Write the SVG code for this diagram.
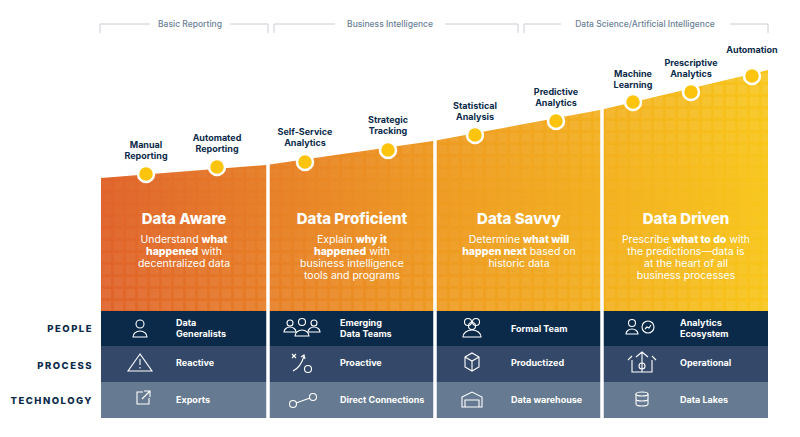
<svg xmlns="http://www.w3.org/2000/svg" width="800" height="437" viewBox="0 0 800 437">
<defs>
<linearGradient id="g" x1="101" y1="0" x2="768" y2="0" gradientUnits="userSpaceOnUse">
<stop offset="0" stop-color="#e0632b"/><stop offset="0.5" stop-color="#ee9a22"/><stop offset="1" stop-color="#f8c61c"/></linearGradient>
<linearGradient id="fade" x1="0" y1="0" x2="0" y2="1"><stop offset="0" stop-color="#fff" stop-opacity="0.9"/><stop offset="0.55" stop-color="#fff" stop-opacity="0.15"/><stop offset="1" stop-color="#fff" stop-opacity="0.6"/></linearGradient>
<pattern id="sq" width="12" height="12" patternUnits="userSpaceOnUse" x="101" y="60"><rect x="1" y="1" width="9" height="9" fill="#fff" fill-opacity="0.13"/></pattern>
<mask id="m"><rect x="0" y="60" width="800" height="252" fill="url(#fade)"/></mask>
</defs>
<style>
.br{fill:none;stroke:#c8ccd2;stroke-width:1}
.bl{font-family:Inter,"Noto Sans",sans-serif;font-size:8.5px;fill:#6b7f96;text-anchor:middle;font-weight:500}
.ml{font-family:Inter,"Noto Sans",sans-serif;font-weight:700;font-size:9px;fill:#0b2a4a;text-anchor:middle}
.dot{fill:#fcc40d;stroke:#fff;stroke-width:2.5}
.h{font-family:Inter,"Noto Sans",sans-serif;font-weight:800;font-size:15px;fill:#fff;text-anchor:middle}
.d{font-family:Inter,"Noto Sans",sans-serif;font-size:10.5px;fill:#fff;text-anchor:middle}
.rl{font-family:Inter,"Noto Sans",sans-serif;font-weight:800;font-size:9.5px;fill:#0b2a4a;text-anchor:end;letter-spacing:1.5px}
.cl{font-family:Inter,"Noto Sans",sans-serif;font-weight:700;font-size:9px;fill:#fff}
.ic{fill:none;stroke:#fff;stroke-width:1.1}
</style>
<g id="brackets">
<path class="br" d="M100,33V24H150M230,24H268V33"/><text class="bl" x="190" y="27">Basic Reporting</text>
<path class="br" d="M274,33V24H335M445,24H518V33"/><text class="bl" x="390" y="27">Business Intelligence</text>
<path class="br" d="M524,33V24H561M730,24H768V33"/><text class="bl" x="645" y="27">Data Science/Artificial Intelligence</text>
</g>
<g id="chart">
<polygon points="101,178 266,165 433,141 600,110 768,70 768,311 101,311" fill="url(#g)"/>
<polygon points="101,178 266,165 433,141 600,110 768,70 768,311 101,311" fill="url(#sq)" mask="url(#m)"/>
<g stroke="#fff" stroke-width="3.5"><line x1="268" y1="150" x2="268" y2="418"/><line x1="435" y1="130" x2="435" y2="418"/><line x1="602" y1="95" x2="602" y2="418"/></g>
</g>
<g id="milestones">
<circle class="dot" cx="146" cy="174" r="8"/><text class="ml" x="146" y="148">Manual</text><text class="ml" x="146" y="159">Reporting</text>
<circle class="dot" cx="217" cy="167" r="8"/><text class="ml" x="217" y="141">Automated</text><text class="ml" x="217" y="152">Reporting</text>
<circle class="dot" cx="305" cy="162" r="8"/><text class="ml" x="305" y="135">Self-Service</text><text class="ml" x="305" y="146">Analytics</text>
<circle class="dot" cx="388" cy="150" r="8"/><text class="ml" x="388" y="123">Strategic</text><text class="ml" x="388" y="134">Tracking</text>
<circle class="dot" cx="475" cy="135" r="8"/><text class="ml" x="475" y="109">Statistical</text><text class="ml" x="475" y="120">Analysis</text>
<circle class="dot" cx="556" cy="121" r="8"/><text class="ml" x="556" y="95">Predictive</text><text class="ml" x="556" y="106">Analytics</text>
<circle class="dot" cx="633" cy="102" r="8"/><text class="ml" x="633" y="77">Machine</text><text class="ml" x="633" y="88">Learning</text>
<circle class="dot" cx="691" cy="92" r="8"/><text class="ml" x="691" y="66">Prescriptive</text><text class="ml" x="691" y="77">Analytics</text>
<circle class="dot" cx="752" cy="76" r="8"/><text class="ml" x="752" y="53">Automation</text>
</g>
<g id="stages">
<text class="h" x="184" y="224">Data Aware</text>
<text class="d" x="184" y="243">Understand <tspan font-weight="800">what</tspan></text>
<text class="d" x="184" y="255"><tspan font-weight="800">happened</tspan> with</text>
<text class="d" x="184" y="267">decentralized data</text>
<text class="h" x="352" y="224">Data Proficient</text>
<text class="d" x="352" y="243">Explain <tspan font-weight="800">why it</tspan></text>
<text class="d" x="352" y="255"><tspan font-weight="800">happened</tspan> with</text>
<text class="d" x="352" y="267">business intelligence</text>
<text class="d" x="352" y="279">tools and programs</text>
<text class="h" x="519" y="224">Data Savvy</text>
<text class="d" x="519" y="243">Determine <tspan font-weight="800">what will</tspan></text>
<text class="d" x="519" y="255"><tspan font-weight="800">happen next</tspan> based on</text>
<text class="d" x="519" y="267">historic data</text>
<text class="h" x="686" y="224">Data Driven</text>
<text class="d" x="686" y="243">Prescribe <tspan font-weight="800">what to do</tspan> with</text>
<text class="d" x="686" y="255">the predictions—data is</text>
<text class="d" x="686" y="267">at the heart of all</text>
<text class="d" x="686" y="279">business processes</text>
</g>
<g id="rows">
<rect x="101" y="311" width="667" height="35" fill="#0b2a4a"/>
<rect x="101" y="346" width="667" height="36" fill="#34496a"/>
<rect x="101" y="382" width="667" height="36" fill="#667b91"/>
<g stroke="#fff" stroke-width="3.5"><line x1="268" y1="311" x2="268" y2="418"/><line x1="435" y1="311" x2="435" y2="418"/><line x1="602" y1="311" x2="602" y2="418"/></g>
<text class="rl" x="93" y="332">PEOPLE</text>
<text class="rl" x="93" y="369">PROCESS</text>
<text class="rl" x="93" y="404">TECHNOLOGY</text>
</g>
<g id="cells">
<text class="cl" x="176" y="326">Data</text><text class="cl" x="176" y="337">Generalists</text>
<text class="cl" x="176" y="366">Reactive</text>
<text class="cl" x="176" y="403">Exports</text>
<text class="cl" x="340" y="326">Emerging</text><text class="cl" x="340" y="337">Data Teams</text>
<text class="cl" x="340" y="366">Proactive</text>
<text class="cl" x="340" y="403">Direct Connections</text>
<text class="cl" x="511" y="332">Formal Team</text>
<text class="cl" x="511" y="366">Productized</text>
<text class="cl" x="511" y="403">Data warehouse</text>
<text class="cl" x="680" y="326">Analytics</text><text class="cl" x="680" y="337">Ecosystem</text>
<text class="cl" x="680" y="366">Operational</text>
<text class="cl" x="680" y="403">Data Lakes</text>
</g>
<g id="icons" class="ic">
<circle cx="140" cy="324" r="4"/><path d="M133,337a7,6 0 0 1 14,0z"/>
<path d="M140,354L128,371H152Z"/><path d="M140,359v6M140,367v1.5"/>
<path d="M143,392h-6v12h12v-6M144,391h6v6M150,391l-8,8"/>
<circle cx="290" cy="323" r="3"/><path d="M284,332a6,5 0 0 1 12,0z"/><circle cx="302" cy="322" r="3.5"/><path d="M295,336a7,6 0 0 1 14,0z"/><circle cx="314" cy="323" r="3"/><path d="M308,332a6,5 0 0 1 12,0z"/>
<path d="M292,354l4,4M296,354l-4,4M293,371q8,-4 11,-15M301,357l3,-2 1,4"/><circle cx="308" cy="369" r="3.5"/>
<circle cx="293" cy="404" r="3.5"/><circle cx="313" cy="397" r="3.5"/><path d="M296,403l14,-5"/>
<circle cx="468" cy="322" r="3.5"/><circle cx="476" cy="322" r="3.5"/><circle cx="472" cy="326" r="3.5"/><path d="M463,337a9,7 0 0 1 18,0z"/>
<path d="M465,357l7,-4 7,4v10l-7,4 -7,-4z M465,357l7,4 7,-4M472,361v10"/>
<path d="M462,397l10,-5 10,5v10h-20z M465,400h14v7h-14z"/>
<circle cx="632" cy="323" r="3.5"/><path d="M626,334a6,5 0 0 1 12,0z"/><circle cx="648" cy="327" r="6"/><path d="M645,329l2,-2 2,1 2,-3"/>
<path d="M632,360v12h20v-12M642,352v20M636,357l6,-5 6,5M628,360l4,-4M656,360l-4,-4"/><circle cx="642" cy="366" r="3"/>
<ellipse cx="642" cy="394" rx="6" ry="2"/><path d="M636,394v10a6,2 0 0 0 12,0v-10M636,399a6,2 0 0 0 12,0"/>
</g>
</svg>
